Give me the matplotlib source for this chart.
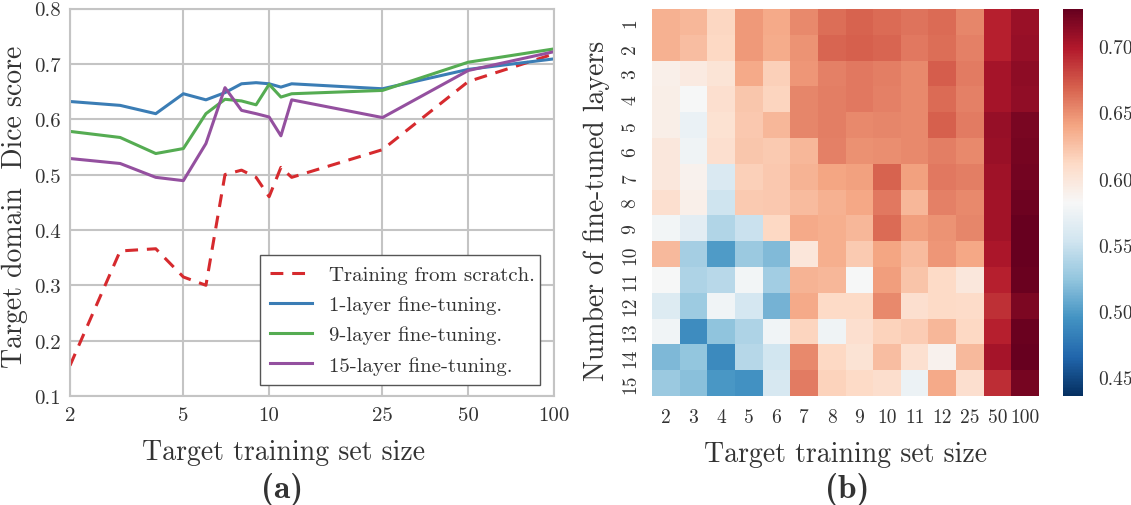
import matplotlib
matplotlib.use("Agg")
import matplotlib.pyplot as plt
import numpy as np

plt.rcParams["font.family"] = "cmr10"
plt.rcParams["mathtext.fontset"] = "cm"
plt.rcParams["axes.formatter.use_mathtext"] = True
plt.rcParams["axes.unicode_minus"] = False
plt.rcParams["text.color"] = "#333333"

# данные
sizes = [2, 3, 4, 5, 6, 7, 8, 9, 10, 11, 12, 25, 50, 100]
xticks_a = [2, 5, 10, 25, 50, 100]
yticks_a = [0.1, 0.2, 0.3, 0.4, 0.5, 0.6, 0.7, 0.8]

scratch = [0.155, 0.362, 0.366, 0.315, 0.300, 0.500, 0.508, 0.495, 0.460, 0.513, 0.495, 0.545, 0.668, 0.718]
layer_1 = [0.632, 0.625, 0.610, 0.646, 0.635, 0.648, 0.664, 0.666, 0.664, 0.658, 0.664, 0.655, 0.690, 0.709]
layer_9 = [0.578, 0.567, 0.538, 0.547, 0.610, 0.636, 0.633, 0.626, 0.663, 0.640, 0.646, 0.652, 0.703, 0.727]
layer_15 = [0.529, 0.520, 0.495, 0.489, 0.556, 0.657, 0.616, 0.610, 0.604, 0.570, 0.635, 0.603, 0.688, 0.722]

layers = list(range(1, 16))
cbar_ticks = [0.45, 0.50, 0.55, 0.60, 0.65, 0.70]
grid_vals = [
    [.634, .630, .613, .645, .637, .652, .664, .668, .665, .661, .665, .653, .695, .708],
    [.634, .627, .612, .645, .636, .648, .667, .669, .667, .659, .663, .656, .695, .709],
    [.590, .595, .602, .637, .617, .646, .656, .659, .657, .652, .670, .658, .703, .713],
    [.592, .582, .606, .622, .614, .653, .657, .659, .656, .652, .665, .656, .704, .712],
    [.592, .572, .604, .621, .631, .653, .657, .652, .653, .652, .669, .658, .709, .721],
    [.598, .576, .607, .622, .620, .631, .656, .649, .650, .652, .657, .652, .708, .722],
    [.598, .588, .560, .617, .621, .633, .640, .642, .668, .642, .659, .657, .706, .723],
    [.607, .591, .552, .620, .621, .628, .634, .638, .659, .630, .656, .652, .705, .725],
    [.578, .567, .538, .550, .612, .637, .635, .630, .665, .643, .648, .653, .705, .728],
    [.629, .532, .499, .528, .518, .600, .635, .620, .640, .628, .646, .638, .701, .727],
    [.582, .537, .541, .578, .531, .633, .631, .581, .643, .624, .611, .598, .696, .726],
    [.562, .529, .577, .556, .513, .637, .611, .611, .652, .607, .611, .610, .689, .719],
    [.577, .490, .523, .537, .577, .614, .576, .606, .616, .619, .630, .612, .696, .726],
    [.516, .524, .489, .540, .554, .652, .612, .603, .627, .605, .588, .629, .703, .728],
    [.528, .521, .497, .494, .557, .658, .616, .611, .608, .573, .637, .607, .690, .722],
]

W, H = 1131, 506
GRID = "#c4c4c4"
FI = "\u00af"  # лигатура fi в cmr10


def px_axes(fig, x0, y0, x1, y1):
    # пиксели от верхнего левого угла
    return fig.add_axes([x0 / W, 1 - y1 / H, (x1 - x0) / W, (y1 - y0) / H])


fig = plt.figure(figsize=(W / 100, H / 100), dpi=100)

# (a) кривые
ax = px_axes(fig, 70, 9.5, 554, 397)
ax.plot(sizes, scratch, color="#d62a2e", lw=2.2, dashes=(4.2, 2.9), label="Training from scratch.")
ax.plot(sizes, layer_1, color="#3b7db5", lw=2.2, label=f"1-layer {FI}ne-tuning.")
ax.plot(sizes, layer_9, color="#55ac52", lw=2.2, label=f"9-layer {FI}ne-tuning.")
ax.plot(sizes, layer_15, color="#94509f", lw=2.2, label=f"15-layer {FI}ne-tuning.")
ax.set_xscale("log")
ax.set_xlim(2, 100)
ax.set_ylim(0.1, 0.8)
ax.set_xticks(xticks_a)
ax.set_xticklabels([str(v) for v in xticks_a])
ax.minorticks_off()
ax.set_yticks(yticks_a)
ax.set_yticklabels([f"{v:.1f}" for v in yticks_a])
ax.grid(True, color=GRID, lw=1.5)
ax.set_axisbelow(True)
for s in ax.spines.values():
    s.set_color(GRID)
    s.set_linewidth(1.5)
ax.tick_params(axis="y", length=0, labelsize=15, pad=6.5, labelcolor="#333333")
ax.tick_params(axis="x", length=0, labelsize=15, pad=7.5, labelcolor="#333333")
ax.set_xlabel("Target training set size", fontsize=20, labelpad=10, color="#333333")
ax.xaxis.label.set_x((283 - 70) / 484)
ax.set_ylabel("Target domain  Dice score", fontsize=20, labelpad=4.5, color="#333333")
ax.yaxis.label.set_y((397 - 207) / 387.5)
leg = ax.legend(
    loc="lower left",
    bbox_to_anchor=((260 - 70) / 484, (397 - 386) / 387.5, 280 / 484, 130 / 387.5),
    mode="expand",
    fontsize=15,
    frameon=True,
    fancybox=False,
    framealpha=1,
    edgecolor="#555555",
    borderaxespad=0,
    borderpad=0.5,
    handlelength=2.0,
    labelspacing=0.55,
)
leg.get_frame().set_linewidth(1.0)
fig.text(282 / W, 1 - 490 / H, "(a)", family="cmb10", fontsize=24, ha="center", va="center", color="#333333")

# (b) теплокарта
ax2 = px_axes(fig, 652, 10, 1039, 397)
mesh = ax2.pcolormesh(np.array(grid_vals), cmap="RdBu_r", vmin=0.436, vmax=0.728)
ax2.invert_yaxis()
ax2.set_xticks(np.arange(len(sizes)) + 0.5)
ax2.set_xticklabels([str(v) for v in sizes])
ax2.set_yticks(np.arange(len(layers)) + 0.5)
ax2.set_yticklabels([str(v) for v in layers], rotation=90, va="center")
ax2.tick_params(length=0, labelsize=14, pad=9, labelcolor="#333333")
for s in ax2.spines.values():
    s.set_visible(False)
ax2.set_xlabel("Target training set size", fontsize=20, labelpad=10, color="#333333")
ax2.set_ylabel(f"Number of {FI}ne-tuned layers", fontsize=20, labelpad=8, color="#333333")
ax2.yaxis.label.set_y((397 - 211) / 387)
fig.text(847 / W, 1 - 490 / H, "(b)", family="cmb10", fontsize=24, ha="center", va="center", color="#333333")

cax = px_axes(fig, 1063, 10, 1083, 397)
cb = fig.colorbar(mesh, cax=cax, ticks=cbar_ticks)
cb.ax.set_yticklabels([f"{v:.2f}" for v in cbar_ticks])
cb.ax.tick_params(length=0, labelsize=14, pad=11, labelcolor="#333333")
cb.outline.set_visible(False)

fig.savefig("out.png", dpi=100)
